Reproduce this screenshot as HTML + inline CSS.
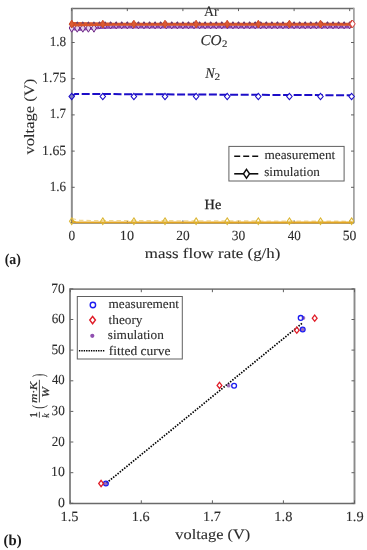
<!DOCTYPE html>
<html><head><meta charset="utf-8"><title>figure</title>
<style>html,body{margin:0;padding:0;background:#fff;} svg{display:block;}</style>
</head><body>
<svg width="367" height="550" viewBox="0 0 367 550" text-rendering="geometricPrecision">
<defs><filter id="soft" filterUnits="userSpaceOnUse" x="0" y="0" width="367" height="550"><feGaussianBlur stdDeviation="0.4 0.28"/></filter></defs>
<rect width="367" height="550" fill="#fff"/>
<g filter="url(#soft)">
<path d="M71.85 8.5 H353.85" stroke="#6e6e6e" stroke-width="1.4"/>
<path d="M71.85 7.8 V223.3" stroke="#8e8e8e" stroke-width="2"/>
<path d="M353.9 7.8 V223.3" stroke="#a0a0a0" stroke-width="1.7"/>
<path d="M71.85 223.0 H353.85" stroke="#7a7a7a" stroke-width="1.4"/>
<path d="M71.7 223.3 V220.3M71.7 8.1 V11.1" stroke="#606060" stroke-width="1"/>
<path d="M127.3 223.3 V220.3M127.3 8.1 V11.1" stroke="#606060" stroke-width="1"/>
<path d="M182.9 223.3 V220.3M182.9 8.1 V11.1" stroke="#606060" stroke-width="1"/>
<path d="M238.5 223.3 V220.3M238.5 8.1 V11.1" stroke="#606060" stroke-width="1"/>
<path d="M294.1 223.3 V220.3M294.1 8.1 V11.1" stroke="#606060" stroke-width="1"/>
<path d="M349.7 223.3 V220.3M349.7 8.1 V11.1" stroke="#606060" stroke-width="1"/>
<path d="M71.7 42.5 H74.7M354.0 42.5 H351.0" stroke="#606060" stroke-width="1"/>
<path d="M71.7 78.7 H74.7M354.0 78.7 H351.0" stroke="#606060" stroke-width="1"/>
<path d="M71.7 114.9 H74.7M354.0 114.9 H351.0" stroke="#606060" stroke-width="1"/>
<path d="M71.7 151.1 H74.7M354.0 151.1 H351.0" stroke="#606060" stroke-width="1"/>
<path d="M71.7 187.3 H74.7M354.0 187.3 H351.0" stroke="#606060" stroke-width="1"/>
<path d="M71.7 28.6 L78 29.6 L90 28.8 L100 27.6 L120 27.2 L350 27.2" stroke="#8e4cb0" stroke-width="2.6" fill="none"/>
<path d="M71.70 23.80 L74.20 28.00 L71.70 32.20 L69.20 28.00 Z" fill="#e4d0ee" stroke="#6a2484" stroke-width="1.0"/>
<path d="M77.26 23.80 L79.76 28.00 L77.26 32.20 L74.76 28.00 Z" fill="#e4d0ee" stroke="#6a2484" stroke-width="1.0"/>
<path d="M82.82 23.80 L85.32 28.00 L82.82 32.20 L80.32 28.00 Z" fill="#e4d0ee" stroke="#6a2484" stroke-width="1.0"/>
<path d="M88.38 23.80 L90.88 28.00 L88.38 32.20 L85.88 28.00 Z" fill="#e4d0ee" stroke="#6a2484" stroke-width="1.0"/>
<path d="M93.94 23.80 L96.44 28.00 L93.94 32.20 L91.44 28.00 Z" fill="#e4d0ee" stroke="#6a2484" stroke-width="1.0"/>
<path d="M99.50 21.90 L101.70 25.40 L99.50 28.90 L97.30 25.40 Z" fill="#c9a0dc" stroke="#6a2484" stroke-width="0.9"/>
<path d="M105.06 21.90 L107.26 25.40 L105.06 28.90 L102.86 25.40 Z" fill="#c9a0dc" stroke="#6a2484" stroke-width="0.9"/>
<path d="M110.62 21.90 L112.82 25.40 L110.62 28.90 L108.42 25.40 Z" fill="#c9a0dc" stroke="#6a2484" stroke-width="0.9"/>
<path d="M116.18 21.90 L118.38 25.40 L116.18 28.90 L113.98 25.40 Z" fill="#c9a0dc" stroke="#6a2484" stroke-width="0.9"/>
<path d="M121.74 21.90 L123.94 25.40 L121.74 28.90 L119.54 25.40 Z" fill="#c9a0dc" stroke="#6a2484" stroke-width="0.9"/>
<path d="M127.30 21.90 L129.50 25.40 L127.30 28.90 L125.10 25.40 Z" fill="#c9a0dc" stroke="#6a2484" stroke-width="0.9"/>
<path d="M132.86 21.90 L135.06 25.40 L132.86 28.90 L130.66 25.40 Z" fill="#c9a0dc" stroke="#6a2484" stroke-width="0.9"/>
<path d="M138.42 21.90 L140.62 25.40 L138.42 28.90 L136.22 25.40 Z" fill="#c9a0dc" stroke="#6a2484" stroke-width="0.9"/>
<path d="M143.98 21.90 L146.18 25.40 L143.98 28.90 L141.78 25.40 Z" fill="#c9a0dc" stroke="#6a2484" stroke-width="0.9"/>
<path d="M149.54 21.90 L151.74 25.40 L149.54 28.90 L147.34 25.40 Z" fill="#c9a0dc" stroke="#6a2484" stroke-width="0.9"/>
<path d="M155.10 21.90 L157.30 25.40 L155.10 28.90 L152.90 25.40 Z" fill="#c9a0dc" stroke="#6a2484" stroke-width="0.9"/>
<path d="M160.66 21.90 L162.86 25.40 L160.66 28.90 L158.46 25.40 Z" fill="#c9a0dc" stroke="#6a2484" stroke-width="0.9"/>
<path d="M166.22 21.90 L168.42 25.40 L166.22 28.90 L164.02 25.40 Z" fill="#c9a0dc" stroke="#6a2484" stroke-width="0.9"/>
<path d="M171.78 21.90 L173.98 25.40 L171.78 28.90 L169.58 25.40 Z" fill="#c9a0dc" stroke="#6a2484" stroke-width="0.9"/>
<path d="M177.34 21.90 L179.54 25.40 L177.34 28.90 L175.14 25.40 Z" fill="#c9a0dc" stroke="#6a2484" stroke-width="0.9"/>
<path d="M182.90 21.90 L185.10 25.40 L182.90 28.90 L180.70 25.40 Z" fill="#c9a0dc" stroke="#6a2484" stroke-width="0.9"/>
<path d="M188.46 21.90 L190.66 25.40 L188.46 28.90 L186.26 25.40 Z" fill="#c9a0dc" stroke="#6a2484" stroke-width="0.9"/>
<path d="M194.02 21.90 L196.22 25.40 L194.02 28.90 L191.82 25.40 Z" fill="#c9a0dc" stroke="#6a2484" stroke-width="0.9"/>
<path d="M199.58 21.90 L201.78 25.40 L199.58 28.90 L197.38 25.40 Z" fill="#c9a0dc" stroke="#6a2484" stroke-width="0.9"/>
<path d="M205.14 21.90 L207.34 25.40 L205.14 28.90 L202.94 25.40 Z" fill="#c9a0dc" stroke="#6a2484" stroke-width="0.9"/>
<path d="M210.70 21.90 L212.90 25.40 L210.70 28.90 L208.50 25.40 Z" fill="#c9a0dc" stroke="#6a2484" stroke-width="0.9"/>
<path d="M216.26 21.90 L218.46 25.40 L216.26 28.90 L214.06 25.40 Z" fill="#c9a0dc" stroke="#6a2484" stroke-width="0.9"/>
<path d="M221.82 21.90 L224.02 25.40 L221.82 28.90 L219.62 25.40 Z" fill="#c9a0dc" stroke="#6a2484" stroke-width="0.9"/>
<path d="M227.38 21.90 L229.58 25.40 L227.38 28.90 L225.18 25.40 Z" fill="#c9a0dc" stroke="#6a2484" stroke-width="0.9"/>
<path d="M232.94 21.90 L235.14 25.40 L232.94 28.90 L230.74 25.40 Z" fill="#c9a0dc" stroke="#6a2484" stroke-width="0.9"/>
<path d="M238.50 21.90 L240.70 25.40 L238.50 28.90 L236.30 25.40 Z" fill="#c9a0dc" stroke="#6a2484" stroke-width="0.9"/>
<path d="M244.06 21.90 L246.26 25.40 L244.06 28.90 L241.86 25.40 Z" fill="#c9a0dc" stroke="#6a2484" stroke-width="0.9"/>
<path d="M249.62 21.90 L251.82 25.40 L249.62 28.90 L247.42 25.40 Z" fill="#c9a0dc" stroke="#6a2484" stroke-width="0.9"/>
<path d="M255.18 21.90 L257.38 25.40 L255.18 28.90 L252.98 25.40 Z" fill="#c9a0dc" stroke="#6a2484" stroke-width="0.9"/>
<path d="M260.74 21.90 L262.94 25.40 L260.74 28.90 L258.54 25.40 Z" fill="#c9a0dc" stroke="#6a2484" stroke-width="0.9"/>
<path d="M266.30 21.90 L268.50 25.40 L266.30 28.90 L264.10 25.40 Z" fill="#c9a0dc" stroke="#6a2484" stroke-width="0.9"/>
<path d="M271.86 21.90 L274.06 25.40 L271.86 28.90 L269.66 25.40 Z" fill="#c9a0dc" stroke="#6a2484" stroke-width="0.9"/>
<path d="M277.42 21.90 L279.62 25.40 L277.42 28.90 L275.22 25.40 Z" fill="#c9a0dc" stroke="#6a2484" stroke-width="0.9"/>
<path d="M282.98 21.90 L285.18 25.40 L282.98 28.90 L280.78 25.40 Z" fill="#c9a0dc" stroke="#6a2484" stroke-width="0.9"/>
<path d="M288.54 21.90 L290.74 25.40 L288.54 28.90 L286.34 25.40 Z" fill="#c9a0dc" stroke="#6a2484" stroke-width="0.9"/>
<path d="M294.10 21.90 L296.30 25.40 L294.10 28.90 L291.90 25.40 Z" fill="#c9a0dc" stroke="#6a2484" stroke-width="0.9"/>
<path d="M299.66 21.90 L301.86 25.40 L299.66 28.90 L297.46 25.40 Z" fill="#c9a0dc" stroke="#6a2484" stroke-width="0.9"/>
<path d="M305.22 21.90 L307.42 25.40 L305.22 28.90 L303.02 25.40 Z" fill="#c9a0dc" stroke="#6a2484" stroke-width="0.9"/>
<path d="M310.78 21.90 L312.98 25.40 L310.78 28.90 L308.58 25.40 Z" fill="#c9a0dc" stroke="#6a2484" stroke-width="0.9"/>
<path d="M316.34 21.90 L318.54 25.40 L316.34 28.90 L314.14 25.40 Z" fill="#c9a0dc" stroke="#6a2484" stroke-width="0.9"/>
<path d="M321.90 21.90 L324.10 25.40 L321.90 28.90 L319.70 25.40 Z" fill="#c9a0dc" stroke="#6a2484" stroke-width="0.9"/>
<path d="M327.46 21.90 L329.66 25.40 L327.46 28.90 L325.26 25.40 Z" fill="#c9a0dc" stroke="#6a2484" stroke-width="0.9"/>
<path d="M333.02 21.90 L335.22 25.40 L333.02 28.90 L330.82 25.40 Z" fill="#c9a0dc" stroke="#6a2484" stroke-width="0.9"/>
<path d="M338.58 21.90 L340.78 25.40 L338.58 28.90 L336.38 25.40 Z" fill="#c9a0dc" stroke="#6a2484" stroke-width="0.9"/>
<path d="M344.14 21.90 L346.34 25.40 L344.14 28.90 L341.94 25.40 Z" fill="#c9a0dc" stroke="#6a2484" stroke-width="0.9"/>
<path d="M349.70 21.90 L351.90 25.40 L349.70 28.90 L347.50 25.40 Z" fill="#c9a0dc" stroke="#6a2484" stroke-width="0.9"/>
<path d="M71.7 24.2 L352 24.3" stroke="#d8542a" stroke-width="3.0" fill="none"/>
<path d="M71.7 22.0 L100 22.6 L110 22.8 L110 25.8 L100 26.0 L71.7 26.6 Z" fill="#d8542a"/>
<path d="M72.00 20.70 L74.50 24.00 L72.00 27.30 L69.50 24.00 Z" fill="#e05a30" stroke="#d04020" stroke-width="1.0"/>
<path d="M70.10 23.4 L71.70 21.3 L73.30 23.4 Z M75.66 23.4 L77.26 21.3 L78.86 23.4 Z M81.22 23.4 L82.82 21.3 L84.42 23.4 Z M86.78 23.4 L88.38 21.3 L89.98 23.4 Z M92.34 23.4 L93.94 21.3 L95.54 23.4 Z M97.90 23.4 L99.50 21.3 L101.10 23.4 Z M103.46 23.4 L105.06 21.3 L106.66 23.4 Z M109.02 23.4 L110.62 21.3 L112.22 23.4 Z M114.58 23.4 L116.18 21.3 L117.78 23.4 Z M120.14 23.4 L121.74 21.3 L123.34 23.4 Z M125.70 23.4 L127.30 21.3 L128.90 23.4 Z M131.26 23.4 L132.86 21.3 L134.46 23.4 Z M136.82 23.4 L138.42 21.3 L140.02 23.4 Z M142.38 23.4 L143.98 21.3 L145.58 23.4 Z M147.94 23.4 L149.54 21.3 L151.14 23.4 Z M153.50 23.4 L155.10 21.3 L156.70 23.4 Z M159.06 23.4 L160.66 21.3 L162.26 23.4 Z M164.62 23.4 L166.22 21.3 L167.82 23.4 Z M170.18 23.4 L171.78 21.3 L173.38 23.4 Z M175.74 23.4 L177.34 21.3 L178.94 23.4 Z M181.30 23.4 L182.90 21.3 L184.50 23.4 Z M186.86 23.4 L188.46 21.3 L190.06 23.4 Z M192.42 23.4 L194.02 21.3 L195.62 23.4 Z M197.98 23.4 L199.58 21.3 L201.18 23.4 Z M203.54 23.4 L205.14 21.3 L206.74 23.4 Z M209.10 23.4 L210.70 21.3 L212.30 23.4 Z M214.66 23.4 L216.26 21.3 L217.86 23.4 Z M220.22 23.4 L221.82 21.3 L223.42 23.4 Z M225.78 23.4 L227.38 21.3 L228.98 23.4 Z M231.34 23.4 L232.94 21.3 L234.54 23.4 Z M236.90 23.4 L238.50 21.3 L240.10 23.4 Z M242.46 23.4 L244.06 21.3 L245.66 23.4 Z M248.02 23.4 L249.62 21.3 L251.22 23.4 Z M253.58 23.4 L255.18 21.3 L256.78 23.4 Z M259.14 23.4 L260.74 21.3 L262.34 23.4 Z M264.70 23.4 L266.30 21.3 L267.90 23.4 Z M270.26 23.4 L271.86 21.3 L273.46 23.4 Z M275.82 23.4 L277.42 21.3 L279.02 23.4 Z M281.38 23.4 L282.98 21.3 L284.58 23.4 Z M286.94 23.4 L288.54 21.3 L290.14 23.4 Z M292.50 23.4 L294.10 21.3 L295.70 23.4 Z M298.06 23.4 L299.66 21.3 L301.26 23.4 Z M303.62 23.4 L305.22 21.3 L306.82 23.4 Z M309.18 23.4 L310.78 21.3 L312.38 23.4 Z M314.74 23.4 L316.34 21.3 L317.94 23.4 Z M320.30 23.4 L321.90 21.3 L323.50 23.4 Z M325.86 23.4 L327.46 21.3 L329.06 23.4 Z M331.42 23.4 L333.02 21.3 L334.62 23.4 Z M336.98 23.4 L338.58 21.3 L340.18 23.4 Z M342.54 23.4 L344.14 21.3 L345.74 23.4 Z M348.10 23.4 L349.70 21.3 L351.30 23.4 Z" fill="#6a3a6a" stroke="none"/>
<path d="M71.70 20.20 L74.20 24.10 L71.70 28.00 L69.20 24.10 Z" fill="#dc5a30" stroke="#c84a2a" stroke-width="0.9"/>
<path d="M102.80 20.20 L105.30 24.10 L102.80 28.00 L100.30 24.10 Z" fill="#dc5a30" stroke="#c84a2a" stroke-width="0.9"/>
<path d="M133.90 20.20 L136.40 24.10 L133.90 28.00 L131.40 24.10 Z" fill="#dc5a30" stroke="#c84a2a" stroke-width="0.9"/>
<path d="M165.00 20.20 L167.50 24.10 L165.00 28.00 L162.50 24.10 Z" fill="#dc5a30" stroke="#c84a2a" stroke-width="0.9"/>
<path d="M196.10 20.20 L198.60 24.10 L196.10 28.00 L193.60 24.10 Z" fill="#dc5a30" stroke="#c84a2a" stroke-width="0.9"/>
<path d="M227.20 20.20 L229.70 24.10 L227.20 28.00 L224.70 24.10 Z" fill="#dc5a30" stroke="#c84a2a" stroke-width="0.9"/>
<path d="M258.30 20.20 L260.80 24.10 L258.30 28.00 L255.80 24.10 Z" fill="#dc5a30" stroke="#c84a2a" stroke-width="0.9"/>
<path d="M289.40 20.20 L291.90 24.10 L289.40 28.00 L286.90 24.10 Z" fill="#dc5a30" stroke="#c84a2a" stroke-width="0.9"/>
<path d="M320.50 20.20 L323.00 24.10 L320.50 28.00 L318.00 24.10 Z" fill="#dc5a30" stroke="#c84a2a" stroke-width="0.9"/>
<path d="M351.60 20.20 L354.10 24.10 L351.60 28.00 L349.10 24.10 Z" fill="#dc5a30" stroke="#c84a2a" stroke-width="0.9"/>
<path d="M352.50 20.20 L355.20 23.90 L352.50 27.60 L349.80 23.90 Z" fill="white" stroke="#d83838" stroke-width="1.0"/>
<path d="M72 96.4 L75 93.9 L352 95.3" stroke="#1a0cc8" stroke-width="2.0" fill="none" stroke-dasharray="8 2.6"/>
<path d="M71.70 93.40 L74.40 96.50 L71.70 99.60 L69.00 96.50 Z" fill="#8080c0" stroke="#1a0cc8" stroke-width="1.05"/>
<path d="M102.80 93.40 L105.50 96.50 L102.80 99.60 L100.10 96.50 Z" fill="white" stroke="#1a0cc8" stroke-width="1.05"/>
<path d="M133.90 93.40 L136.60 96.50 L133.90 99.60 L131.20 96.50 Z" fill="white" stroke="#1a0cc8" stroke-width="1.05"/>
<path d="M165.00 93.40 L167.70 96.50 L165.00 99.60 L162.30 96.50 Z" fill="white" stroke="#1a0cc8" stroke-width="1.05"/>
<path d="M196.10 93.40 L198.80 96.50 L196.10 99.60 L193.40 96.50 Z" fill="white" stroke="#1a0cc8" stroke-width="1.05"/>
<path d="M227.20 93.40 L229.90 96.50 L227.20 99.60 L224.50 96.50 Z" fill="white" stroke="#1a0cc8" stroke-width="1.05"/>
<path d="M258.30 93.40 L261.00 96.50 L258.30 99.60 L255.60 96.50 Z" fill="white" stroke="#1a0cc8" stroke-width="1.05"/>
<path d="M289.40 93.40 L292.10 96.50 L289.40 99.60 L286.70 96.50 Z" fill="white" stroke="#1a0cc8" stroke-width="1.05"/>
<path d="M320.50 93.40 L323.20 96.50 L320.50 99.60 L317.80 96.50 Z" fill="white" stroke="#1a0cc8" stroke-width="1.05"/>
<path d="M351.60 93.40 L354.30 96.50 L351.60 99.60 L348.90 96.50 Z" fill="white" stroke="#1a0cc8" stroke-width="1.05"/>
<path d="M71.7 218.4 L80 220.4 L352 221.2" stroke="#f2d890" stroke-width="1.1" fill="none" stroke-dasharray="4.5 3"/>
<path d="M71.7 221.0 L76.1 222.4 L353.0 222.5" stroke="#e4a622" stroke-width="1.9" fill="none"/>
<path d="M71.70 217.90 L73.90 221.20 L71.70 224.50 L69.50 221.20 Z" fill="none" stroke="#dcb634" stroke-width="1.1"/>
<path d="M102.80 217.90 L105.00 221.20 L102.80 224.50 L100.60 221.20 Z" fill="none" stroke="#dcb634" stroke-width="1.1"/>
<path d="M133.90 217.90 L136.10 221.20 L133.90 224.50 L131.70 221.20 Z" fill="none" stroke="#dcb634" stroke-width="1.1"/>
<path d="M165.00 217.90 L167.20 221.20 L165.00 224.50 L162.80 221.20 Z" fill="none" stroke="#dcb634" stroke-width="1.1"/>
<path d="M196.10 217.90 L198.30 221.20 L196.10 224.50 L193.90 221.20 Z" fill="none" stroke="#dcb634" stroke-width="1.1"/>
<path d="M227.20 217.90 L229.40 221.20 L227.20 224.50 L225.00 221.20 Z" fill="none" stroke="#dcb634" stroke-width="1.1"/>
<path d="M258.30 217.90 L260.50 221.20 L258.30 224.50 L256.10 221.20 Z" fill="none" stroke="#dcb634" stroke-width="1.1"/>
<path d="M289.40 217.90 L291.60 221.20 L289.40 224.50 L287.20 221.20 Z" fill="none" stroke="#dcb634" stroke-width="1.1"/>
<path d="M320.50 217.90 L322.70 221.20 L320.50 224.50 L318.30 221.20 Z" fill="none" stroke="#dcb634" stroke-width="1.1"/>
<path d="M351.60 217.90 L353.80 221.20 L351.60 224.50 L349.40 221.20 Z" fill="none" stroke="#dcb634" stroke-width="1.1"/>
<rect x="228.9" y="146.4" width="115.2" height="34.6" fill="white" stroke="#606060" stroke-width="1"/>
<path d="M234.2 156.3 H258.3" stroke="#111" stroke-width="1.6" stroke-dasharray="6 3"/>
<path d="M234.2 173.8 H258.3" stroke="#111" stroke-width="1.6"/>
<path d="M246.50 169.40 L249.50 173.80 L246.50 178.20 L243.50 173.80 Z" fill="white" stroke="#111" stroke-width="1.5"/>
<path d="M70.0 289.1 H354.5" stroke="#848484" stroke-width="1.8"/>
<path d="M70.0 503.5 H354.5" stroke="#6a6a6a" stroke-width="1.5"/>
<path d="M70.0 288.3 V504.2" stroke="#8a8a8a" stroke-width="2"/>
<path d="M354.5 288.3 V504.2" stroke="#8a8a8a" stroke-width="1.9"/>
<path d="M70.3 503.3 V500.3M70.3 289.2 V292.2" stroke="#606060" stroke-width="1"/>
<path d="M141.3 503.3 V500.3M141.3 289.2 V292.2" stroke="#606060" stroke-width="1"/>
<path d="M212.4 503.3 V500.3M212.4 289.2 V292.2" stroke="#606060" stroke-width="1"/>
<path d="M283.4 503.3 V500.3M283.4 289.2 V292.2" stroke="#606060" stroke-width="1"/>
<path d="M354.5 503.3 V500.3M354.5 289.2 V292.2" stroke="#606060" stroke-width="1"/>
<path d="M70.3 503.3 H73.3M354.5 503.3 H351.5" stroke="#606060" stroke-width="1"/>
<path d="M70.3 472.7 H73.3M354.5 472.7 H351.5" stroke="#606060" stroke-width="1"/>
<path d="M70.3 442.0 H73.3M354.5 442.0 H351.5" stroke="#606060" stroke-width="1"/>
<path d="M70.3 411.4 H73.3M354.5 411.4 H351.5" stroke="#606060" stroke-width="1"/>
<path d="M70.3 380.8 H73.3M354.5 380.8 H351.5" stroke="#606060" stroke-width="1"/>
<path d="M70.3 350.1 H73.3M354.5 350.1 H351.5" stroke="#606060" stroke-width="1"/>
<path d="M70.3 319.5 H73.3M354.5 319.5 H351.5" stroke="#606060" stroke-width="1"/>
<path d="M70.3 288.9 H73.3M354.5 288.9 H351.5" stroke="#606060" stroke-width="1"/>
<path d="M106.5 483.0 L302.7 322.8" stroke="#000" stroke-width="1.7" stroke-dasharray="1.5 1.35" fill="none"/>
<circle cx="105.9" cy="483.5" r="1.9" fill="#8040a0" opacity="0.75"/>
<circle cx="228.6" cy="385.7" r="1.9" fill="#8040a0" opacity="0.75"/>
<circle cx="303.4" cy="317.9" r="1.9" fill="#8040a0" opacity="0.75"/>
<circle cx="302.7" cy="329.5" r="1.9" fill="#8040a0" opacity="0.75"/>
<circle cx="105.9" cy="483.5" r="2.4" fill="none" stroke="#1c1cf0" stroke-width="1.3"/>
<circle cx="234.1" cy="385.7" r="2.4" fill="none" stroke="#1c1cf0" stroke-width="1.3"/>
<circle cx="300.7" cy="317.9" r="2.4" fill="none" stroke="#1c1cf0" stroke-width="1.3"/>
<circle cx="302.7" cy="329.5" r="2.4" fill="none" stroke="#1c1cf0" stroke-width="1.3"/>
<path d="M101.10 480.40 L103.50 483.50 L101.10 486.60 L98.70 483.50 Z" fill="none" stroke="#e01c28" stroke-width="1.3"/>
<path d="M219.50 382.30 L221.90 385.40 L219.50 388.50 L217.10 385.40 Z" fill="none" stroke="#e01c28" stroke-width="1.3"/>
<path d="M314.70 315.10 L317.10 318.20 L314.70 321.30 L312.30 318.20 Z" fill="none" stroke="#e01c28" stroke-width="1.3"/>
<path d="M296.80 327.10 L299.20 330.20 L296.80 333.30 L294.40 330.20 Z" fill="none" stroke="#e01c28" stroke-width="1.3"/>
<path d="M39.4 411.8 V417.7 M39.4 379.8 V402.4" stroke="#333" stroke-width="0.9"/>
<rect x="77.3" y="296.5" width="105" height="62.5" fill="white" stroke="#606060" stroke-width="1"/>
<circle cx="92.9" cy="305" r="2.7" fill="none" stroke="#1c1cf0" stroke-width="1.4"/>
<path d="M92.60 316.40 L95.40 320.10 L92.60 323.80 L89.80 320.10 Z" fill="none" stroke="#e01c28" stroke-width="1.5"/>
<circle cx="92.3" cy="335.8" r="2.1" fill="#9050b0"/>
<path d="M78.9 350.7 H104.5" stroke="#000" stroke-width="1.6" stroke-dasharray="1.4 1.0"/>
<text x="49.66" y="46.05" textLength="16.52" lengthAdjust="spacingAndGlyphs" font-family="Liberation Serif, serif" font-size="14" fill="#2c2c2c" stroke="#2c2c2c" stroke-width="0.1">1.8</text>
<text x="42.11" y="82.25" textLength="24.09" lengthAdjust="spacingAndGlyphs" font-family="Liberation Serif, serif" font-size="14" fill="#2c2c2c" stroke="#2c2c2c" stroke-width="0.1">1.75</text>
<text x="49.67" y="118.45" textLength="16.37" lengthAdjust="spacingAndGlyphs" font-family="Liberation Serif, serif" font-size="14" fill="#2c2c2c" stroke="#2c2c2c" stroke-width="0.1">1.7</text>
<text x="42.11" y="154.65" textLength="24.09" lengthAdjust="spacingAndGlyphs" font-family="Liberation Serif, serif" font-size="14" fill="#2c2c2c" stroke="#2c2c2c" stroke-width="0.1">1.65</text>
<text x="49.67" y="190.85" textLength="16.37" lengthAdjust="spacingAndGlyphs" font-family="Liberation Serif, serif" font-size="14" fill="#2c2c2c" stroke="#2c2c2c" stroke-width="0.1">1.6</text>
<text x="68.62" y="239.55" textLength="6.67" lengthAdjust="spacingAndGlyphs" font-family="Liberation Serif, serif" font-size="14" fill="#2c2c2c" stroke="#2c2c2c" stroke-width="0.1">0</text>
<text x="119.88" y="239.55" textLength="14.14" lengthAdjust="spacingAndGlyphs" font-family="Liberation Serif, serif" font-size="14" fill="#2c2c2c" stroke="#2c2c2c" stroke-width="0.1">10</text>
<text x="176.22" y="239.55" textLength="13.37" lengthAdjust="spacingAndGlyphs" font-family="Liberation Serif, serif" font-size="14" fill="#2c2c2c" stroke="#2c2c2c" stroke-width="0.1">20</text>
<text x="231.67" y="239.55" textLength="13.52" lengthAdjust="spacingAndGlyphs" font-family="Liberation Serif, serif" font-size="14" fill="#2c2c2c" stroke="#2c2c2c" stroke-width="0.1">30</text>
<text x="287.69" y="239.55" textLength="13.09" lengthAdjust="spacingAndGlyphs" font-family="Liberation Serif, serif" font-size="14" fill="#2c2c2c" stroke="#2c2c2c" stroke-width="0.1">40</text>
<text x="342.73" y="239.55" textLength="13.67" lengthAdjust="spacingAndGlyphs" font-family="Liberation Serif, serif" font-size="14" fill="#2c2c2c" stroke="#2c2c2c" stroke-width="0.1">50</text>
<text x="57.90" y="506.95" textLength="6.90" lengthAdjust="spacingAndGlyphs" font-family="Liberation Serif, serif" font-size="14" fill="#2c2c2c" stroke="#2c2c2c" stroke-width="0.1">0</text>
<text x="51.01" y="476.32" textLength="13.79" lengthAdjust="spacingAndGlyphs" font-family="Liberation Serif, serif" font-size="14" fill="#2c2c2c" stroke="#2c2c2c" stroke-width="0.1">10</text>
<text x="51.73" y="445.69" textLength="13.04" lengthAdjust="spacingAndGlyphs" font-family="Liberation Serif, serif" font-size="14" fill="#2c2c2c" stroke="#2c2c2c" stroke-width="0.1">20</text>
<text x="51.59" y="415.06" textLength="13.19" lengthAdjust="spacingAndGlyphs" font-family="Liberation Serif, serif" font-size="14" fill="#2c2c2c" stroke="#2c2c2c" stroke-width="0.1">30</text>
<text x="51.99" y="384.43" textLength="12.77" lengthAdjust="spacingAndGlyphs" font-family="Liberation Serif, serif" font-size="14" fill="#2c2c2c" stroke="#2c2c2c" stroke-width="0.1">40</text>
<text x="51.45" y="353.80" textLength="13.33" lengthAdjust="spacingAndGlyphs" font-family="Liberation Serif, serif" font-size="14" fill="#2c2c2c" stroke="#2c2c2c" stroke-width="0.1">50</text>
<text x="51.73" y="323.17" textLength="13.04" lengthAdjust="spacingAndGlyphs" font-family="Liberation Serif, serif" font-size="14" fill="#2c2c2c" stroke="#2c2c2c" stroke-width="0.1">60</text>
<text x="51.31" y="292.54" textLength="13.48" lengthAdjust="spacingAndGlyphs" font-family="Liberation Serif, serif" font-size="14" fill="#2c2c2c" stroke="#2c2c2c" stroke-width="0.1">70</text>
<text x="60.46" y="520.55" textLength="17.97" lengthAdjust="spacingAndGlyphs" font-family="Liberation Serif, serif" font-size="14" fill="#2c2c2c" stroke="#2c2c2c" stroke-width="0.1">1.5</text>
<text x="131.77" y="520.55" textLength="17.81" lengthAdjust="spacingAndGlyphs" font-family="Liberation Serif, serif" font-size="14" fill="#2c2c2c" stroke="#2c2c2c" stroke-width="0.1">1.6</text>
<text x="203.07" y="520.55" textLength="17.81" lengthAdjust="spacingAndGlyphs" font-family="Liberation Serif, serif" font-size="14" fill="#2c2c2c" stroke="#2c2c2c" stroke-width="0.1">1.7</text>
<text x="274.36" y="520.55" textLength="17.97" lengthAdjust="spacingAndGlyphs" font-family="Liberation Serif, serif" font-size="14" fill="#2c2c2c" stroke="#2c2c2c" stroke-width="0.1">1.8</text>
<text x="345.66" y="520.55" textLength="17.97" lengthAdjust="spacingAndGlyphs" font-family="Liberation Serif, serif" font-size="14" fill="#2c2c2c" stroke="#2c2c2c" stroke-width="0.1">1.9</text>
<text x="144.81" y="258.23" textLength="135.61" lengthAdjust="spacingAndGlyphs" font-family="Liberation Serif, serif" font-size="14.4" fill="#2c2c2c" stroke="#2c2c2c" stroke-width="0.1">mass flow rate (g/h)</text>
<text x="175.35" y="538.69" textLength="74.88" lengthAdjust="spacingAndGlyphs" font-family="Liberation Serif, serif" font-size="14.4" fill="#2c2c2c" stroke="#2c2c2c" stroke-width="0.1">voltage (V)</text>
<text transform="rotate(-90)" x="-154.55" y="34.29" textLength="75.89" lengthAdjust="spacingAndGlyphs" font-family="Liberation Serif, serif" font-size="14.4" fill="#2c2c2c" stroke="#2c2c2c" stroke-width="0.1">voltage (V)</text>
<text x="203.91" y="15.75" textLength="14.61" lengthAdjust="spacingAndGlyphs" font-family="Liberation Serif, serif" font-size="14.5" fill="#2c2c2c" stroke="#2c2c2c" stroke-width="0.1">Ar</text>
<text x="200.43" y="44.80" textLength="21.21" lengthAdjust="spacingAndGlyphs" font-family="Liberation Serif, serif" font-size="15" fill="#2c2c2c" stroke="#2c2c2c" stroke-width="0.1" font-style="italic">CO</text>
<text x="222.12" y="46.85" textLength="5.38" lengthAdjust="spacingAndGlyphs" font-family="Liberation Serif, serif" font-size="10" fill="#2c2c2c" stroke="#2c2c2c" stroke-width="0.1">2</text>
<text x="205.29" y="77.55" textLength="9.45" lengthAdjust="spacingAndGlyphs" font-family="Liberation Serif, serif" font-size="15" fill="#2c2c2c" stroke="#2c2c2c" stroke-width="0.1" font-style="italic">N</text>
<text x="214.50" y="79.65" textLength="5.63" lengthAdjust="spacingAndGlyphs" font-family="Liberation Serif, serif" font-size="10" fill="#2c2c2c" stroke="#2c2c2c" stroke-width="0.1">2</text>
<text x="204.62" y="208.71" textLength="16.64" lengthAdjust="spacingAndGlyphs" font-family="Liberation Serif, serif" font-size="14" fill="#222" stroke="#222" stroke-width="0.25">He</text>
<text x="264.48" y="158.82" textLength="70.81" lengthAdjust="spacingAndGlyphs" font-family="Liberation Serif, serif" font-size="13" fill="#2c2c2c" stroke="#2c2c2c" stroke-width="0.1">measurement</text>
<text x="264.22" y="176.12" textLength="55.69" lengthAdjust="spacingAndGlyphs" font-family="Liberation Serif, serif" font-size="13" fill="#2c2c2c" stroke="#2c2c2c" stroke-width="0.1">simulation</text>
<text x="108.49" y="307.72" textLength="70.51" lengthAdjust="spacingAndGlyphs" font-family="Liberation Serif, serif" font-size="13" fill="#2c2c2c" stroke="#2c2c2c" stroke-width="0.1">measurement</text>
<text x="108.62" y="323.92" textLength="33.89" lengthAdjust="spacingAndGlyphs" font-family="Liberation Serif, serif" font-size="13" fill="#2c2c2c" stroke="#2c2c2c" stroke-width="0.1">theory</text>
<text x="107.72" y="338.52" textLength="56.09" lengthAdjust="spacingAndGlyphs" font-family="Liberation Serif, serif" font-size="13" fill="#2c2c2c" stroke="#2c2c2c" stroke-width="0.1">simulation</text>
<text x="108.75" y="354.72" textLength="61.82" lengthAdjust="spacingAndGlyphs" font-family="Liberation Serif, serif" font-size="13" fill="#2c2c2c" stroke="#2c2c2c" stroke-width="0.1">fitted curve</text>
<text x="4.69" y="263.90" textLength="16.20" lengthAdjust="spacingAndGlyphs" font-family="Liberation Serif, serif" font-size="15" fill="#1a1a1a" font-weight="bold">(a)</text>
<text x="3.56" y="544.60" textLength="18.01" lengthAdjust="spacingAndGlyphs" font-family="Liberation Serif, serif" font-size="15" fill="#1a1a1a" font-weight="bold">(b)</text>
<text transform="rotate(-90)" x="-417.60" y="37.28" textLength="5.29" lengthAdjust="spacingAndGlyphs" font-family="Liberation Serif, serif" font-size="10.5" fill="#2c2c2c" stroke="#2c2c2c" stroke-width="0.35">1</text>
<text transform="rotate(-90)" x="-417.64" y="48.65" textLength="4.34" lengthAdjust="spacingAndGlyphs" font-family="Liberation Serif, serif" font-size="10" fill="#2c2c2c" stroke="#2c2c2c" stroke-width="0.15" font-style="italic">k</text>
<text transform="rotate(-90)" x="-402.97" y="36.51" textLength="21.29" lengthAdjust="spacingAndGlyphs" font-family="Liberation Serif, serif" font-size="10.4" fill="#2c2c2c" stroke="#2c2c2c" stroke-width="0.2" font-style="italic">m·K</text>
<text transform="rotate(-90)" x="-397.52" y="48.51" textLength="10.41" lengthAdjust="spacingAndGlyphs" font-family="Liberation Serif, serif" font-size="10.4" fill="#2c2c2c" stroke="#2c2c2c" stroke-width="0.2" font-style="italic">W</text>
<text transform="rotate(-90)" x="-408.70" y="44.28" textLength="3.72" lengthAdjust="spacingAndGlyphs" font-family="Liberation Serif, serif" font-size="17" fill="#2c2c2c" stroke="#2c2c2c" stroke-width="0.1">(</text>
<text transform="rotate(-90)" x="-376.94" y="44.28" textLength="3.20" lengthAdjust="spacingAndGlyphs" font-family="Liberation Serif, serif" font-size="17" fill="#2c2c2c" stroke="#2c2c2c" stroke-width="0.1">)</text>
</g>
</svg>
</body></html>
